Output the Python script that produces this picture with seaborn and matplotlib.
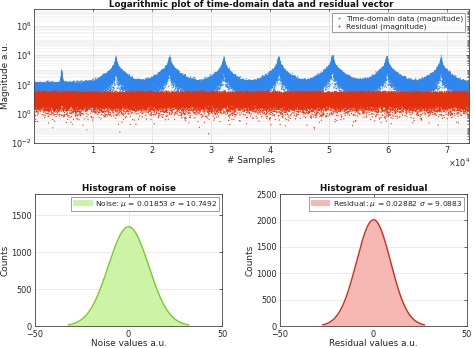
import numpy as np
import pandas as pd
import matplotlib
matplotlib.use("Agg")
import matplotlib.pyplot as plt
from matplotlib.ticker import NullFormatter
import seaborn as sns

sns.set_theme(style="white")
plt.rcParams["font.family"] = ["DejaVu Sans"]
plt.rcParams["mathtext.fontset"] = "dejavusans"

# ---- time-domain record -------------------------------------------------
n_samples = 73700
baseline_scale = 42.0                     # Rayleigh scale of the floor
peak_centres = [4700, 13900, 23000, 32200, 41500, 50600, 59800, 69000]
peak_spike_heights = [260, 1500, 1900, 1600, 1900, 2600, 2100, 1600]
peak_spike_widths = [60, 120, 130, 120, 130, 130, 130, 120]
peak_bump_heights = [0, 650, 700, 560, 650, 750, 700, 600]
peak_bump_widths = [1, 1000, 1100, 1000, 1050, 1100, 1050, 1000]

# ---- noise / residual statistics ---------------------------------------
noise_mu, noise_sigma = 0.01853, 10.7492
resid_mu, resid_sigma = 0.02882, 9.0883
noise_peak_count = 1342
resid_peak_count = 2012

blue = "#2f86ec"
red = "#e5300c"
green_fill, green_line = "#ccf4a6", "#7cc826"
red_fill, red_line = "#f6b8b3", "#d02a1c"
axis_grey = "#262626"

rng = np.random.default_rng(7)
n = np.arange(1, n_samples + 1)
envelope = np.full(n.shape, baseline_scale)
for c, hs, ws, hb, wb in zip(peak_centres, peak_spike_heights, peak_spike_widths,
                             peak_bump_heights, peak_bump_widths):
    envelope += hs / (1.0 + ((n - c) / ws) ** 2)
    envelope += hb * np.exp(-np.abs(n - c) / wb)


def complex_mag(scale):
    return scale * np.abs(rng.normal(size=n.size) + 1j * rng.normal(size=n.size))


data_mag = complex_mag(envelope)
resid_mag = complex_mag(resid_sigma)

df = pd.DataFrame({
    "sample": np.concatenate([n, n]),
    "mag": np.concatenate([data_mag, resid_mag]),
    "kind": ["Time-domain data (magnitude)"] * n.size + ["Residual (magnitude)"] * n.size,
})

fig = plt.figure(figsize=(4.74, 3.48), dpi=100)
ax = fig.add_axes([34 / 474, 1 - 143 / 348, 435 / 474, 134 / 348])
axL = fig.add_axes([35 / 474, 1 - 326 / 348, 187 / 474, 132 / 348])
axR = fig.add_axes([280 / 474, 1 - 326 / 348, 187 / 474, 132 / 348])

fs_tick, fs_lab, fs_title, fs_leg = 5.9, 6.4, 6.3, 5.4


def matlab_style(a):
    for s in a.spines.values():
        s.set_color("#444444")
        s.set_linewidth(0.6)
    a.tick_params(direction="in", length=2.5, width=0.5, colors=axis_grey,
                  labelsize=fs_tick, top=True, right=True, pad=2)
    a.tick_params(which="minor", direction="in", length=1.3, width=0.4,
                  top=True, right=True)


# ---- top panel: log scatter --------------------------------------------
sns.scatterplot(data=df, x="sample", y="mag", hue="kind",
                palette=[blue, red], s=0.8, linewidth=0, ax=ax,
                rasterized=True, legend=True)
ax.set_yscale("log")
ax.set_xlim(0, n_samples)
ax.set_ylim(1e-2, 1.4e7)
ax.set_yticks([1e-2, 1, 1e2, 1e4, 1e6])
ax.set_yticklabels([r"$10^{-2}$", r"$10^{0}$", r"$10^{2}$", r"$10^{4}$", r"$10^{6}$"])
minor = [m * 10.0 ** d for d in range(-2, 8) for m in range(1, 10)
         if not (m == 1 and d % 2 == 0)]
ax.set_yticks([v for v in minor if v < 1.4e7], minor=True)
ax.yaxis.set_minor_formatter(NullFormatter())
ax.set_xticks([1e4, 2e4, 3e4, 4e4, 5e4, 6e4, 7e4])
ax.set_xticklabels(["1", "2", "3", "4", "5", "6", "7"])
ax.grid(True, which="major", color="#d9d9d9", linewidth=0.5)
ax.grid(True, which="minor", axis="y", color="#ececec", linewidth=0.4)
matlab_style(ax)
ax.tick_params(axis="y", which="minor", left=False, right=True)
ax.set_title("Logarithmic plot of time-domain data and residual vector",
             fontsize=fs_title, fontweight="bold", pad=1.5, color="#111111")
ax.set_xlabel("# Samples", fontsize=fs_lab, labelpad=1, color=axis_grey)
ax.set_ylabel("Magnitude a.u.", fontsize=fs_lab, labelpad=1, color=axis_grey)
fig.text(448 / 474, 1 - 163 / 348, r"$\times10^{4}$", fontsize=fs_tick,
         color=axis_grey, ha="left", va="center")
leg = ax.legend(loc="upper right", fontsize=fs_leg, markerscale=1.5,
                handletextpad=0.3, borderpad=0.3, labelspacing=0.2,
                frameon=True, fancybox=False, borderaxespad=0.5,
                handlelength=1.2)
leg.get_frame().set_edgecolor("#555555")
leg.get_frame().set_linewidth(0.5)
for t in leg.get_texts():
    t.set_color(axis_grey)


# ---- bottom panels: histograms -----------------------------------------
def gauss_panel(a, mu, sigma, peak, fill, line, label, title, xlabel, ylim, yticks):
    x = np.linspace(mu - 3 * sigma, mu + 3 * sigma, 300)
    y = peak * np.exp(-0.5 * ((x - mu) / sigma) ** 2)
    a.fill_between(x, 0, y, color=fill, linewidth=0, label=label, zorder=2)
    sns.lineplot(x=x, y=y, color=line, linewidth=1.0, ax=a, zorder=3)
    a.set_xlim(-50, 50)
    a.set_ylim(*ylim)
    a.set_xticks([-50, 0, 50])
    a.set_yticks(yticks)
    a.grid(True, color="#e3e3e3", linewidth=0.5)
    a.set_axisbelow(True)
    matlab_style(a)
    a.tick_params(axis="x", pad=3)
    a.tick_params(axis="y", pad=2.5)
    a.set_title(title, fontsize=fs_title, fontweight="bold", pad=2, color="#111111")
    a.set_xlabel(xlabel, fontsize=fs_lab, labelpad=0, color=axis_grey)
    a.set_ylabel("Counts", fontsize=fs_lab, labelpad=1, color=axis_grey)
    lg = a.legend(loc="upper right", fontsize=fs_leg, handlelength=2.6,
                  handleheight=0.9, handletextpad=0.3, borderpad=0.25,
                  frameon=True, fancybox=False, borderaxespad=0.4)
    lg.get_frame().set_edgecolor("#555555")
    lg.get_frame().set_linewidth(0.5)
    for t in lg.get_texts():
        t.set_color(axis_grey)


gauss_panel(axL, noise_mu, noise_sigma, noise_peak_count, green_fill, green_line,
            rf"Noise: $\mu$ = {noise_mu} $\sigma$ = {noise_sigma}",
            "Histogram of noise", "Noise values a.u.", (0, 1785),
            [0, 500, 1000, 1500])
gauss_panel(axR, resid_mu, resid_sigma, resid_peak_count, red_fill, red_line,
            rf"Residual: $\mu$ = {resid_mu} $\sigma$ = {resid_sigma}",
            "Histogram of residual", "Residual values a.u.", (0, 2500),
            [0, 500, 1000, 1500, 2000, 2500])

fig.savefig("out.png", dpi=100)
